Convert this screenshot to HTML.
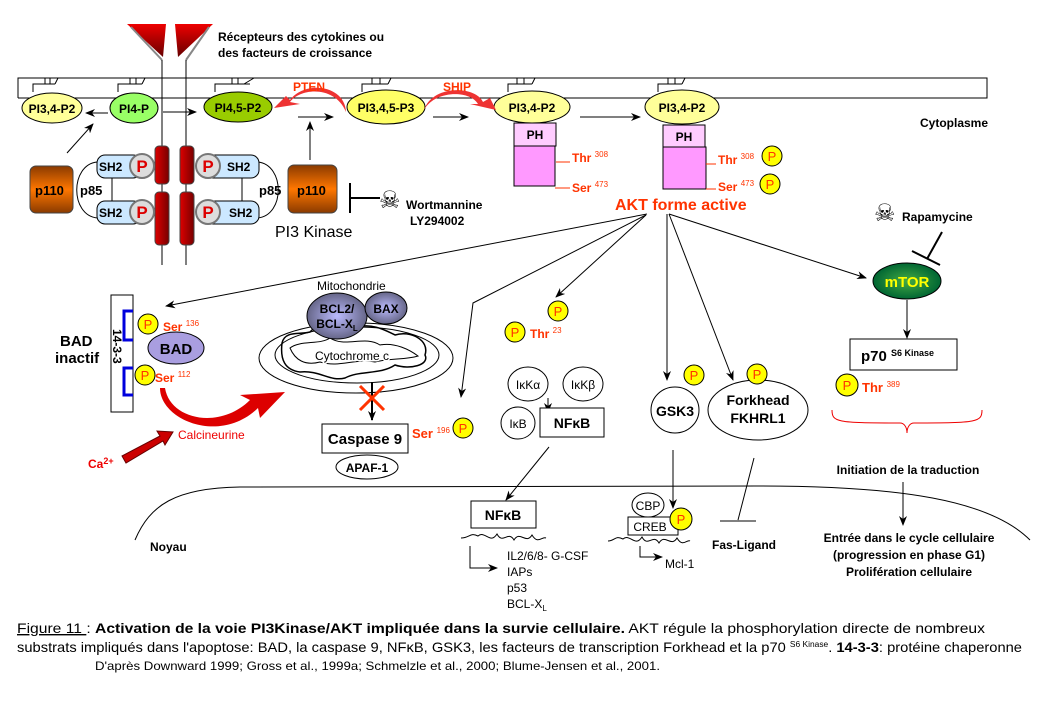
<!DOCTYPE html>
<html><head><meta charset="utf-8"><style>
body{margin:0;background:#fff}
svg{display:block}
text{font-family:"Liberation Sans","DejaVu Sans",sans-serif}
.b{font-weight:bold}
</style></head><body>
<svg width="1039" height="719" viewBox="0 0 1039 719" xmlns="http://www.w3.org/2000/svg">
<defs>
<marker id="a" markerWidth="10" markerHeight="8" refX="9" refY="4" orient="auto" markerUnits="userSpaceOnUse"><path d="M0,0 L10,4 L0,8 L3,4z" fill="#000"/></marker>
<linearGradient id="rg" x1="0" y1="0" x2="0" y2="1"><stop offset="0" stop-color="#e00"/><stop offset="1" stop-color="#600"/></linearGradient>
<linearGradient id="bar" x1="0" y1="0" x2="1" y2="0"><stop offset="0" stop-color="#d00"/><stop offset="1" stop-color="#700"/></linearGradient>
<linearGradient id="br" x1="0" y1="0" x2="0" y2="1"><stop offset="0" stop-color="#8a3a00"/><stop offset=".5" stop-color="#f70"/><stop offset="1" stop-color="#8a3a00"/></linearGradient>
<radialGradient id="gr"><stop offset="0" stop-color="#4a4"/><stop offset="1" stop-color="#063"/></radialGradient>
<radialGradient id="pu"><stop offset="0" stop-color="#bbf"/><stop offset="1" stop-color="#668"/></radialGradient>
</defs>

<!-- receptor -->
<path d="M127,24 L166,24 L163,57z" fill="url(#rg)"/>
<path d="M175,24 L213,24 L178,57z" fill="url(#rg)"/>
<path d="M131,27 L162,60 M209,27 L186,60" stroke="#888" stroke-width="2" fill="none"/>
<line x1="162" y1="60" x2="162" y2="265" stroke="#000"/>
<line x1="186" y1="60" x2="186" y2="265" stroke="#000"/>
<text x="218" y="41" font-size="12" class="b">Récepteurs des cytokines ou</text>
<text x="218" y="57" font-size="12" class="b">des facteurs de croissance</text>

<!-- membrane -->
<path d="M18,98 L18,78 L987,78 L987,98 L18,98" fill="none" stroke="#000"/>
<g stroke="#000" fill="none" stroke-width="1">
<path d="M33,92 V84 H55 M45,84 V78 M50,84 V78 M55,84 L58,78"/>
<path d="M118,92 V84 H142 M130,84 V78 M136,84 V78 M142,84 L145,78"/>
<path d="M215,92 V84 H250 M232,84 V78 M238,84 V78 M244,84 L254,78"/>
<path d="M362,92 V84 H388 M372,84 V78 M380,84 V78 M388,84 L391,78"/>
<path d="M508,92 V84 H532 M517,84 V78 M524,84 V78 M532,84 L535,78"/>
<path d="M658,92 V84 H682 M668,84 V78 M675,84 V78 M682,84 L685,78"/>
</g>
<g stroke="#000" font-size="12" class="b">
<ellipse cx="52" cy="108" rx="30" ry="15" fill="#ffff99"/>
<ellipse cx="134" cy="108" rx="24" ry="15" fill="#99ff66"/>
<ellipse cx="238" cy="107" rx="34" ry="15" fill="#99cc00"/>
<ellipse cx="386" cy="107" rx="39" ry="17" fill="#ffff66"/>
<ellipse cx="532" cy="107" rx="38" ry="16" fill="#ffff99"/>
<ellipse cx="682" cy="107" rx="37" ry="17" fill="#ffff99"/>
</g>
<g font-size="12" class="b" text-anchor="middle">
<text x="52" y="113">PI3,4-P2</text><text x="134" y="113">PI4-P</text>
<text x="238" y="112">PI4,5-P2</text><text x="386" y="112">PI3,4,5-P3</text>
<text x="532" y="112">PI3,4-P2</text><text x="682" y="112">PI3,4-P2</text>
</g>
<g stroke="#000" marker-end="url(#a)">
<line x1="108" y1="113" x2="86" y2="113"/>
<line x1="163" y1="112" x2="196" y2="112"/>
<line x1="67" y1="153" x2="93" y2="124"/>
<line x1="310" y1="160" x2="310" y2="122"/>
<line x1="298" y1="117" x2="333" y2="117"/>
<line x1="433" y1="117" x2="468" y2="117"/>
<line x1="580" y1="117" x2="640" y2="117"/>
</g>
<!-- PTEN / SHIP -->
<path d="M346,112 C335,85 300,88 290,102 L300,104 L274,108 L286,96 L290,100 C305,80 345,85 346,112z" fill="#e33"/>
<path d="M424,110 C432,85 475,85 483,102 L490,98 L496,110 L470,104 L478,104 C470,90 435,90 424,110z" fill="#e33"/>
<text x="293" y="91" font-size="12" class="b" fill="#f30">PTEN</text>
<text x="443" y="91" font-size="12" class="b" fill="#f30">SHIP</text>

<!-- PI3K -->
<g fill="url(#bar)" stroke="#444">
<rect x="155" y="146" width="14" height="38" rx="4"/><rect x="155" y="192" width="14" height="53" rx="4"/>
<rect x="180" y="146" width="14" height="38" rx="4"/><rect x="180" y="192" width="14" height="53" rx="4"/>
</g>
<path d="M97,162 C70,165 70,215 97,218" fill="none" stroke="#000"/>
<path d="M258,162 C285,165 285,215 258,218" fill="none" stroke="#000"/>
<line x1="112" y1="178" x2="112" y2="201" stroke="#000"/>
<line x1="242" y1="178" x2="242" y2="201" stroke="#000"/>
<g fill="#cce8ff" stroke="#000">
<rect x="97" y="155" width="44" height="23" rx="8"/><rect x="97" y="201" width="44" height="23" rx="8"/>
<rect x="205" y="155" width="54" height="23" rx="8"/><rect x="205" y="201" width="54" height="23" rx="8"/>
</g>
<g font-size="12" class="b"><text x="99" y="171">SH2</text><text x="99" y="217">SH2</text><text x="227" y="171">SH2</text><text x="229" y="217">SH2</text></g>
<g fill="#ddd" stroke="#777" stroke-width="2">
<circle cx="142" cy="166" r="12"/><circle cx="142" cy="212" r="12"/><circle cx="208" cy="166" r="12"/><circle cx="208" cy="212" r="12"/>
</g>
<g font-size="17" class="b" fill="#d00" text-anchor="middle"><text x="142" y="172">P</text><text x="142" y="218">P</text><text x="208" y="172">P</text><text x="208" y="218">P</text></g>
<rect x="30" y="166" width="43" height="47" rx="6" fill="url(#br)" stroke="#444"/>
<rect x="288" y="165" width="49" height="48" rx="6" fill="url(#br)" stroke="#444"/>
<g font-size="13" class="b"><text x="35" y="195">p110</text><text x="297" y="195">p110</text><text x="80" y="195">p85</text><text x="259" y="195">p85</text></g>
<text x="275" y="237" font-size="16">PI3 Kinase</text>
<path d="M350,183 V213 M350,198 H380" stroke="#000" stroke-width="2"/>
<text x="379" y="208" font-size="24">☠</text>
<text x="406" y="209" font-size="12" class="b">Wortmannine</text>
<text x="410" y="225" font-size="12" class="b">LY294002</text>

<!-- AKT -->
<rect x="514" y="123" width="42" height="23" fill="#ffccff" stroke="#000"/>
<rect x="514" y="146" width="41" height="40" fill="#ff99ff" stroke="#000"/>
<rect x="663" y="125" width="42" height="22" fill="#ffccff" stroke="#000"/>
<rect x="663" y="147" width="43" height="42" fill="#ff99ff" stroke="#000"/>
<text x="535" y="139" font-size="12" class="b" text-anchor="middle">PH</text>
<text x="684" y="141" font-size="12" class="b" text-anchor="middle">PH</text>
<path d="M556,162 H570 M555,188 H570 M706,164 H716 M706,189 H716" stroke="#f30"/>
<g fill="#f30" font-size="12" class="b">
<text x="572" y="162">Thr <tspan font-size="8" font-weight="normal" dy="-5">308</tspan></text>
<text x="572" y="192">Ser <tspan font-size="8" font-weight="normal" dy="-5">473</tspan></text>
<text x="718" y="164">Thr <tspan font-size="8" font-weight="normal" dy="-5">308</tspan></text>
<text x="718" y="191">Ser <tspan font-size="8" font-weight="normal" dy="-5">473</tspan></text>
</g>
<text x="615" y="210" font-size="16" class="b" fill="#f30">AKT forme active</text>
<text x="920" y="127" font-size="12" class="b">Cytoplasme</text>

<!-- fan -->
<g stroke="#000" fill="none">
<line x1="647" y1="214" x2="166" y2="306" marker-end="url(#a)"/>
<polyline points="646,215 473,303 461,397" marker-end="url(#a)"/>
<line x1="646" y1="215" x2="556" y2="297" marker-end="url(#a)"/>
<line x1="667" y1="214" x2="667" y2="380" marker-end="url(#a)"/>
<line x1="669" y1="214" x2="733" y2="380" marker-end="url(#a)"/>
<line x1="669" y1="214" x2="866" y2="278" marker-end="url(#a)"/>
<line x1="907" y1="300" x2="907" y2="338" marker-end="url(#a)"/>
<line x1="548" y1="398" x2="548" y2="412" marker-end="url(#a)"/>
<line x1="549" y1="447" x2="506" y2="500" marker-end="url(#a)"/>
<line x1="673" y1="450" x2="673" y2="508" marker-end="url(#a)"/>
<line x1="903" y1="482" x2="903" y2="525" marker-end="url(#a)"/>
<line x1="372" y1="382" x2="372" y2="420" marker-end="url(#a)" stroke-width="2"/>
</g>

<!-- mTOR -->
<text x="874" y="221" font-size="24">☠</text>
<text x="902" y="221" font-size="12" class="b">Rapamycine</text>
<path d="M942,232 L927,259 M912,251 L940,265" stroke="#000" stroke-width="2"/>
<ellipse cx="907" cy="281" rx="34" ry="18" fill="url(#gr)" stroke="#000"/>
<text x="907" y="287" font-size="15" class="b" fill="#ff0" text-anchor="middle">mTOR</text>
<rect x="850" y="339" width="107" height="31" fill="#fff" stroke="#000"/>
<text x="861" y="361" font-size="15" class="b">p70 <tspan font-size="9" dy="-5">S6 Kinase</tspan></text>
<text x="862" y="392" font-size="13" class="b" fill="#f30">Thr <tspan font-size="8" font-weight="normal" dy="-5">389</tspan></text>
<path d="M832,410 C832,422 836,423 900,423 C904,423 907,427 907,433 C907,427 910,423 914,423 C978,423 982,422 982,410" fill="none" stroke="#e00"/>
<text x="908" y="474" font-size="12" class="b" text-anchor="middle">Initiation de la traduction</text>
<g font-size="12" class="b" text-anchor="middle"><text x="909" y="542">Entrée dans le cycle cellulaire</text><text x="909" y="559">(progression en phase G1)</text><text x="909" y="576">Prolifération cellulaire</text></g>

<!-- nucleus -->
<path d="M135,540 C150,505 175,488 240,487 L760,486 C900,486 990,500 1030,540" fill="none" stroke="#000"/>
<text x="150" y="551" font-size="12" class="b">Noyau</text>

<!-- BAD -->
<text x="60" y="346" font-size="15" class="b">BAD</text>
<text x="55" y="363" font-size="15" class="b">inactif</text>
<rect x="111" y="295" width="22" height="117" fill="#fff" stroke="#000"/>
<path d="M133,311 H124 V340 H133 M133,368 H124 V395 H133" fill="none" stroke="#00d" stroke-width="3"/>
<text transform="translate(113,329) rotate(90)" font-size="12" class="b">14-3-3</text>
<ellipse cx="176" cy="348" rx="28" ry="16" fill="#a99ee0" stroke="#000"/>
<text x="176" y="354" font-size="15" class="b" text-anchor="middle">BAD</text>
<text x="163" y="331" font-size="12" class="b" fill="#f30">Ser <tspan font-size="8" font-weight="normal" dy="-5">136</tspan></text>
<text x="155" y="382" font-size="12" class="b" fill="#f30">Ser <tspan font-size="8" font-weight="normal" dy="-5">112</tspan></text>
<path d="M165,388 C170,420 220,430 250,400 L240,395 L285,392 L260,418 L258,408 C220,445 160,420 160,388z" fill="#d00"/>
<text x="178" y="439" font-size="12" fill="#e00">Calcineurine</text>
<text x="88" y="468" font-size="12" class="b" fill="#e00">Ca<tspan font-size="9" dy="-4">2+</tspan></text>
<path d="M122,456 L160,436 L157,431 L173,432 L165,445 L163,441 L126,463z" fill="#c00" stroke="#600"/>

<!-- mitochondria -->
<text x="317" y="290" font-size="12">Mitochondrie</text>
<ellipse cx="356" cy="358" rx="97" ry="35" fill="none" stroke="#000"/>
<ellipse cx="357" cy="355" rx="82" ry="28" fill="none" stroke="#000"/>
<path d="M282,343 C285,330 300,335 310,332 C320,320 340,330 355,328 C370,322 385,330 395,335 C410,330 430,340 425,355 C430,365 410,370 395,365 C380,375 360,370 345,378 C330,382 320,370 300,372 C285,370 280,360 282,343z" fill="none" stroke="#000" stroke-width="1.5"/>
<path d="M290,348 C300,340 320,345 330,338 C345,348 365,335 380,345 C395,342 410,350 418,356 C405,360 390,358 375,362 C355,358 340,368 320,362 C305,366 295,360 290,348z" fill="none" stroke="#000"/>
<ellipse cx="337" cy="316" rx="30" ry="23" fill="url(#pu)" stroke="#000"/>
<ellipse cx="386" cy="308" rx="21" ry="16" fill="url(#pu)" stroke="#000"/>
<text x="337" y="313" font-size="12" class="b" text-anchor="middle">BCL2/</text>
<text x="337" y="328" font-size="12" class="b" text-anchor="middle">BCL-X<tspan font-size="8" dy="3">L</tspan></text>
<text x="386" y="313" font-size="12" class="b" text-anchor="middle">BAX</text>
<text x="352" y="360" font-size="12" text-anchor="middle" fill="#fff" stroke="#fff" stroke-width="3">Cytochrome c</text>
<text x="352" y="360" font-size="12" text-anchor="middle">Cytochrome c</text>
<path d="M360,386 L384,410 M384,386 L360,410" stroke="#f30" stroke-width="3"/>
<rect x="322" y="424" width="86" height="29" fill="#fff" stroke="#000"/>
<text x="365" y="444" font-size="15" class="b" text-anchor="middle">Caspase 9</text>
<ellipse cx="367" cy="467" rx="31" ry="12" fill="#fff" stroke="#000"/>
<text x="367" y="472" font-size="12" class="b" text-anchor="middle">APAF-1</text>
<text x="412" y="438" font-size="13" class="b" fill="#f30">Ser <tspan font-size="8" font-weight="normal" dy="-5">196</tspan></text>

<!-- NFkB -->
<text x="530" y="338" font-size="12" class="b" fill="#f30">Thr <tspan font-size="8" font-weight="normal" dy="-5">23</tspan></text>
<ellipse cx="528" cy="384" rx="20" ry="17" fill="#fff" stroke="#000"/>
<ellipse cx="583" cy="384" rx="20" ry="17" fill="#fff" stroke="#000"/>
<text x="528" y="389" font-size="12" text-anchor="middle">IκKα</text>
<text x="583" y="389" font-size="12" text-anchor="middle">IκKβ</text>
<ellipse cx="518" cy="423" rx="17" ry="16" fill="#fff" stroke="#000"/>
<text x="518" y="428" font-size="12" text-anchor="middle">IκB</text>
<rect x="540" y="408" width="64" height="29" fill="#fff" stroke="#000"/>
<text x="572" y="428" font-size="14" class="b" text-anchor="middle">NFκB</text>
<rect x="471" y="501" width="65" height="27" fill="#fff" stroke="#000"/>
<text x="503" y="520" font-size="14" class="b" text-anchor="middle">NFκB</text>
<path d="M461,538 C470,538 470,532 478,536 C485,530 490,545 497,534 C503,545 508,530 514,540 C520,530 526,545 532,535 C538,545 542,536 546,538" fill="none" stroke="#000"/>
<path d="M470,546 V568 H497" fill="none" stroke="#000" marker-end="url(#a)"/>
<g font-size="12"><text x="507" y="560">IL2/6/8- G-CSF</text><text x="507" y="576">IAPs</text><text x="507" y="592">p53</text><text x="507" y="608">BCL-X<tspan font-size="8" dy="3">L</tspan></text></g>

<!-- GSK3 / Forkhead -->
<ellipse cx="675" cy="410" rx="24" ry="23" fill="#fff" stroke="#000"/>
<text x="675" y="416" font-size="14" class="b" text-anchor="middle">GSK3</text>
<ellipse cx="758" cy="410" rx="50" ry="30" fill="#fff" stroke="#000"/>
<text x="758" y="405" font-size="14" class="b" text-anchor="middle">Forkhead</text>
<text x="758" y="423" font-size="14" class="b" text-anchor="middle">FKHRL1</text>
<ellipse cx="648" cy="505" rx="16" ry="12" fill="#fff" stroke="#000"/>
<text x="648" y="510" font-size="12" text-anchor="middle">CBP</text>
<rect x="628" y="517" width="50" height="18" fill="#fff" stroke="#000"/>
<text x="650" y="531" font-size="12" text-anchor="middle">CREB</text>
<path d="M608,541 C615,541 615,535 623,539 C630,533 635,548 642,537 C648,548 653,533 659,543 C665,533 671,548 677,538 C683,548 687,539 690,541" fill="none" stroke="#000"/>
<path d="M640,546 V557 H662" fill="none" stroke="#000" marker-end="url(#a)"/>
<text x="665" y="568" font-size="12">Mcl-1</text>
<path d="M754,458 L738,520 M720,521 H756" stroke="#000"/>
<text x="712" y="549" font-size="12" class="b">Fas-Ligand</text>

<!-- yellow P circles -->
<g fill="#ff0" stroke="#000">
<circle cx="772" cy="156" r="10"/><circle cx="770" cy="184" r="10"/>
<circle cx="148" cy="324" r="10"/><circle cx="145" cy="375" r="10"/>
<circle cx="463" cy="428" r="10"/><circle cx="558" cy="311" r="10"/><circle cx="515" cy="332" r="10"/>
<circle cx="694" cy="375" r="10"/><circle cx="757" cy="374" r="10"/><circle cx="847" cy="385" r="11"/><circle cx="681" cy="519" r="11"/>
</g>
<g fill="#f30" font-size="13" text-anchor="middle">
<text x="772" y="161">P</text><text x="770" y="189">P</text><text x="148" y="329">P</text><text x="145" y="380">P</text>
<text x="463" y="433">P</text><text x="558" y="316">P</text><text x="515" y="337">P</text><text x="694" y="380">P</text>
<text x="757" y="379">P</text><text x="847" y="390">P</text><text x="681" y="524">P</text>
</g>

<!-- caption -->
<text x="17" y="633" font-size="14" textLength="968" lengthAdjust="spacingAndGlyphs"><tspan text-decoration="underline">Figure 11 </tspan> : <tspan class="b">Activation de la voie PI3Kinase/AKT impliquée dans la survie cellulaire.</tspan> AKT régule la phosphorylation directe de nombreux</text>
<text x="17" y="652" font-size="14" textLength="1005" lengthAdjust="spacingAndGlyphs">substrats impliqués dans l'apoptose: BAD, la caspase 9, NFκB, GSK3, les facteurs de transcription Forkhead et la p70 <tspan font-size="8" dy="-5">S6 Kinase</tspan><tspan dy="5">. </tspan><tspan class="b">14-3-3</tspan>: protéine chaperonne</text>
<text x="95" y="670" font-size="12" textLength="565" lengthAdjust="spacingAndGlyphs">D'après Downward 1999; Gross et al., 1999a; Schmelzle et al., 2000; Blume-Jensen et al., 2001.</text>
</svg>
</body></html>
